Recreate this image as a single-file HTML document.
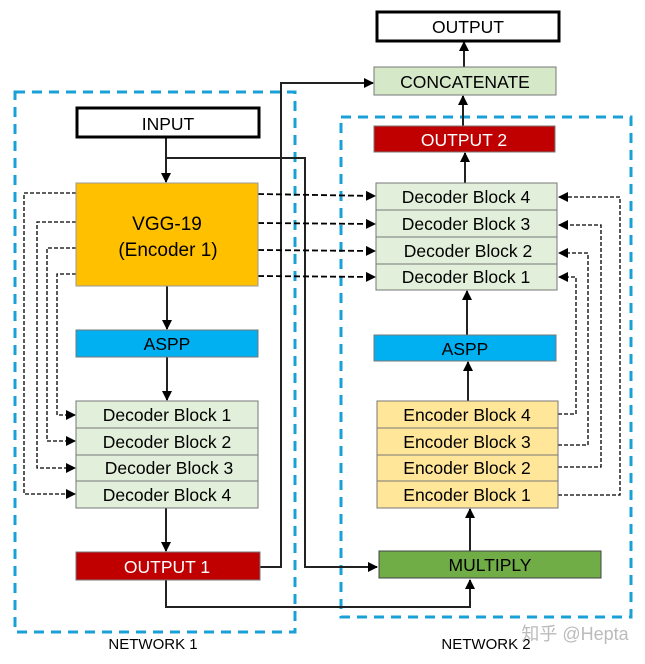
<!DOCTYPE html>
<html><head><meta charset="utf-8"><style>body{margin:0;background:#fff}svg{display:block}text{font-family:"Liberation Sans","Noto Sans CJK SC",sans-serif}</style></head><body>
<svg width="645" height="664" viewBox="0 0 645 664" xmlns="http://www.w3.org/2000/svg">
<defs><marker id="a" markerWidth="10" markerHeight="10" refX="9" refY="5" orient="auto" markerUnits="userSpaceOnUse"><path d="M0,0L10,5L0,10z" fill="#000"/></marker></defs>
<g fill="none" stroke="#1aa0d8" stroke-width="3" stroke-dasharray="10,7">
<rect x="15" y="92" width="280" height="540"/>
<rect x="341" y="117" width="290" height="500"/>
</g>
<g stroke="#222" stroke-width="2" fill="none">
<line x1="166" y1="137" x2="166" y2="182" marker-end="url(#a)"/>
<polyline points="166,158 305,158 305,567 377,567" marker-end="url(#a)"/>
<line x1="167" y1="286" x2="167" y2="329" marker-end="url(#a)"/>
<line x1="167" y1="357" x2="167" y2="400" marker-end="url(#a)"/>
<line x1="166" y1="508" x2="166" y2="551" marker-end="url(#a)"/>
<polyline points="260,567 281,567 281,83 373,83" marker-end="url(#a)"/>
<polyline points="166,580 166,607 470,607 470,580" marker-end="url(#a)"/>
<line x1="470" y1="551" x2="470" y2="509" marker-end="url(#a)"/>
<line x1="468" y1="401" x2="468" y2="362" marker-end="url(#a)"/>
<line x1="467" y1="335" x2="467" y2="291" marker-end="url(#a)"/>
<line x1="465" y1="183" x2="465" y2="153" marker-end="url(#a)"/>
<line x1="463" y1="126" x2="463" y2="96" marker-end="url(#a)"/>
<line x1="464" y1="67" x2="464" y2="42" marker-end="url(#a)"/>
</g>
<g stroke="#000" stroke-width="1.3" fill="none" stroke-dasharray="4,2">
<polyline points="76,193 24,193 24,494 75,494" marker-end="url(#a)"/>
<polyline points="76,222 37,222 37,468 75,468" marker-end="url(#a)"/>
<polyline points="76,248 47,248 47,441 75,441" marker-end="url(#a)"/>
<polyline points="76,274 57,274 57,415 75,415" marker-end="url(#a)"/>
<polyline points="558,414 576,414 576,277 559,277" marker-end="url(#a)"/>
<polyline points="558,445 588,445 588,253 559,253" marker-end="url(#a)"/>
<polyline points="558,467 601,467 601,225 559,225" marker-end="url(#a)"/>
<polyline points="558,495 620,495 620,197 559,197" marker-end="url(#a)"/>
</g>
<g stroke="#000" stroke-width="1.8" fill="none" stroke-dasharray="6,3">
<line x1="258" y1="194" x2="375" y2="196" marker-end="url(#a)"/>
<line x1="258" y1="223" x2="375" y2="224" marker-end="url(#a)"/>
<line x1="258" y1="250" x2="375" y2="251" marker-end="url(#a)"/>
<line x1="258" y1="276" x2="375" y2="277" marker-end="url(#a)"/>
</g>
<g font-size="17.5" text-anchor="middle">
<rect x="377" y="12" width="182" height="29" fill="#fff" stroke="#000" stroke-width="3"/><text x="468" y="33">OUTPUT</text>
<rect x="374" y="67" width="182" height="28" fill="#d5e8c7" stroke="#777"/><text x="465" y="88">CONCATENATE</text>
<rect x="374" y="126" width="181" height="26" fill="#c00000" stroke="#777"/><text x="464" y="146" fill="#fff">OUTPUT 2</text>
<rect x="77" y="108" width="182" height="29" fill="#fff" stroke="#000" stroke-width="3"/><text x="168" y="130">INPUT</text>
<rect x="76" y="183" width="182" height="103" fill="#ffc000" stroke="#999"/><text x="167" y="230" font-size="19">VGG-19</text><text x="168" y="256" font-size="19">(Encoder 1)</text>
<rect x="76" y="330" width="182" height="27" fill="#00b0f0" stroke="#777"/><text x="167" y="350">ASPP</text>
<rect x="374" y="335" width="182" height="26" fill="#00b0f0" stroke="#777"/><text x="465" y="355">ASPP</text>
<rect x="76" y="552" width="184" height="28" fill="#c00000" stroke="#777"/><text x="167" y="573" fill="#fff">OUTPUT 1</text>
<rect x="379" y="551" width="222" height="27" fill="#70ad47" stroke="#444"/><text x="490" y="571">MULTIPLY</text>
<g fill="#e2efda" stroke="#777">
<rect x="76" y="401" width="182" height="27"/><rect x="76" y="428" width="182" height="27"/><rect x="76" y="455" width="182" height="26"/><rect x="76" y="481" width="182" height="27"/>
<rect x="376" y="183" width="181" height="27"/><rect x="376" y="210" width="181" height="27"/><rect x="376" y="237" width="181" height="27"/><rect x="376" y="264" width="181" height="26"/>
</g>
<g fill="#ffe699" stroke="#777">
<rect x="377" y="401" width="181" height="27"/><rect x="377" y="428" width="181" height="27"/><rect x="377" y="455" width="181" height="26"/><rect x="377" y="481" width="181" height="27"/>
</g>
<text x="167" y="421">Decoder Block 1</text><text x="167" y="448">Decoder Block 2</text><text x="169" y="474">Decoder Block 3</text><text x="167" y="501">Decoder Block 4</text>
<text x="466" y="203">Decoder Block 4</text><text x="466" y="230">Decoder Block 3</text><text x="468" y="257">Decoder Block 2</text><text x="466" y="283">Decoder Block 1</text>
<text x="467" y="421">Encoder Block 4</text><text x="467" y="448">Encoder Block 3</text><text x="467" y="474">Encoder Block 2</text><text x="467" y="501">Encoder Block 1</text>
<text x="153" y="649" font-size="15">NETWORK 1</text><text x="486" y="649" font-size="15">NETWORK 2</text>
<text x="575" y="640" font-size="18" fill="#bbb">知乎 @Hepta</text>
</g>
</svg>
</body></html>
